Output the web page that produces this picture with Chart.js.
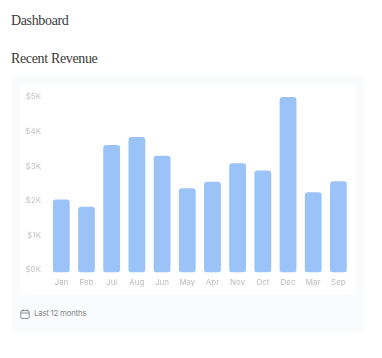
<!DOCTYPE html>
<html>
<head>
<meta charset="utf-8">
<title>Dashboard</title>
<script src="https://cdn.jsdelivr.net/npm/chart.js@4/dist/chart.umd.min.js"></script>
<style>
    html, body { margin: 0; padding: 0; background: #fff; overflow: hidden; }
    body { position: relative; width: 382px; height: 358px; }
    .heading { position: absolute; left: 11px; margin: 0; font: 400 14px "Liberation Serif", serif; letter-spacing: -0.35px; color: #3a3a3a; white-space: nowrap; }
    .panel { position: absolute; left: 12px; top: 76px; width: 351px; height: 256px; background: #fafbfc; border-radius: 4px; }
    .card { position: absolute; left: 20px; top: 84px; width: 335px; height: 211px; background: #fff; border-radius: 6px; }
    canvas { position: absolute; left: 0; top: 0; }
    .footer { position: absolute; left: 34px; top: 308px; font: 400 8px Inter, sans-serif; letter-spacing: -0.3px; line-height: 11px; color: #8a8a8a; white-space: nowrap; }
    .icon { position: absolute; left: 20px; top: 308.5px; }
</style>
</head>
<body>
<h1 class="heading" style="top: 13px">Dashboard</h1>
<h2 class="heading" style="top: 51px">Recent Revenue</h2>
<div class="panel"></div>
<div class="card"><canvas id="revenueChart" width="335" height="211"></canvas></div>
<svg class="icon" width="10" height="10" viewBox="0 0 10 10" fill="none" stroke="#777" stroke-width="0.8">
    <rect x="0.8" y="1.6" width="8.4" height="7.8" rx="1"></rect>
    <path d="M0.8 4H9.2M3 0.4V2.4M7 0.4V2.4"></path>
</svg>
<div class="footer">Last 12 months</div>

<script>
// Datos
const months = ['Jan', 'Feb', 'Jul', 'Aug', 'Jun', 'May', 'Apr', 'Nov', 'Oct', 'Dec', 'Mar', 'Sep'];
const revenue = [2030, 1820, 3610, 3840, 3300, 2360, 2550, 3080, 2870, 5000, 2240, 2560];
const yTicks = [0, 1000, 2000, 3000, 4000, 5000];

const ctx = document.getElementById('revenueChart').getContext('2d');

new Chart(ctx, {
    type: 'bar',
    data: {
        labels: months,
        datasets: [{
            label: 'Revenue',
            data: revenue,
            base: -80, // las barras bajan un poco más que la etiqueta $0K
            backgroundColor: '#9cc3f8',
            borderRadius: 3,
            borderSkipped: false,
            barPercentage: 0.667,
            categoryPercentage: 1
        }]
    },
    options: {
        responsive: false,
        animation: false,
        layout: { padding: { top: 13, right: 4, bottom: 0, left: 0 } },
        plugins: {
            legend: { display: false },
            tooltip: { enabled: false }
        },
        scales: {
            x: {
                grid: { display: false, drawTicks: false },
                border: { display: false },
                afterFit: (scale) => { scale.height = 22.5; },
                ticks: {
                    autoSkip: false,
                    maxRotation: 0,
                    padding: 5,
                    font: { family: 'Inter', size: 8 },
                    color: '#bcbcbc'
                }
            },
            y: {
                min: -80,
                max: 5000,
                grid: { display: false, drawTicks: false },
                border: { display: false },
                afterFit: (scale) => { scale.width = 28.7; },
                afterBuildTicks: (scale) => { scale.ticks = yTicks.map(v => ({ value: v })); },
                ticks: {
                    padding: 7.7,
                    font: { family: 'Inter', size: 8 },
                    color: '#c4c4c4',
                    callback: (value) => `$${value / 1000}K`
                }
            }
        }
    }
});
</script>
</body>
</html>
